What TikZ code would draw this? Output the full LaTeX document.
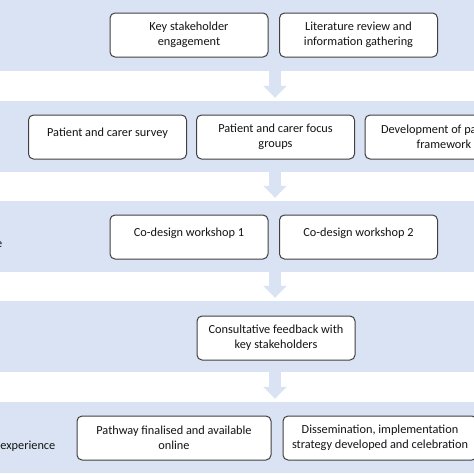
\documentclass[tikz,border=0pt]{standalone}
\usepackage{fontspec}
\setmainfont{Carlito}
\usetikzlibrary{arrows.meta}
\definecolor{218_227_243}{RGB}{218, 227, 243}
\definecolor{64_64_64}{RGB}{64, 64, 64}
\definecolor{20_20_20}{RGB}{20, 20, 20}
\definecolor{white}{RGB}{255.0, 255.0, 255.0}

\begin{document}
\begin{tikzpicture}[
        x=1pt, y=-1pt,
        every node/.style={font=\fontsize{12.3}{15.3}\selectfont, text=20_20_20},
        band/.style={
            fill=218_227_243,
            minimum width=550pt,
            minimum height=71pt,
            inner sep=0pt
        },
        box/.style={
            draw=64_64_64,
            fill=white,
            line width=1pt,
            rounded corners=5pt,
            minimum width=158pt,
            minimum height=44pt,
            inner sep=2pt,
            align=center
        },
        widebox/.style={box, minimum width=194pt},
        oneline/.style={text depth=10pt},
        flow/.style={
            draw=218_227_243,
            line width=12pt,
            -{Triangle[width=23pt,length=12pt]},
            shorten >=3pt
        }
    ]
    \useasboundingbox (0,0) rectangle (474,474);

        \node[band] (band1) at (275,35) {};
        \node[band] (band2) at (275,136.5) {};
        \node[band] (band3) at (275,236.5) {};
        \node[band] (band4) at (275,336.5) {};
        \node[band] (band5) at (275,437.5) {};

        \draw[flow] (band1.south) -- (band2.north);
        \draw[flow] (band2.south) -- (band3.north);
        \draw[flow] (band3.south) -- (band4.north);
        \draw[flow] (band4.south) -- (band5.north);

        \node[box] (keystake) at (189,35) {Key stakeholder\\engagement};
        \node[box] (litreview) at (358.5,35) {Literature review and\\information gathering};

        \node[box, oneline] (survey) at (107.5,137) {Patient and carer survey};
        \node[box] (focus) at (275.5,137) {Patient and carer focus\\groups};
        \node[box] (framework) at (444,137) {Development of pathway\\framework};

        \node[box, oneline] (codesign1) at (189,237) {Co-design workshop 1};
        \node[box, oneline] (codesign2) at (358.5,237) {Co-design workshop 2};

        \node[box] (feedback) at (276,338) {Consultative feedback with\\key stakeholders};

        \node[widebox] (finalised) at (174,438) {Pathway finalised and available\\online};
        \node[widebox] (dissemination) at (380,438) {Dissemination, implementation\\strategy developed and celebration};

        \node[anchor=east, inner sep=0pt] (stage3) at (2.5,245) {e};
        \node[anchor=east, inner sep=0pt] (stage5) at (55.5,446) {experience};
    \end{tikzpicture}
\end{document}
